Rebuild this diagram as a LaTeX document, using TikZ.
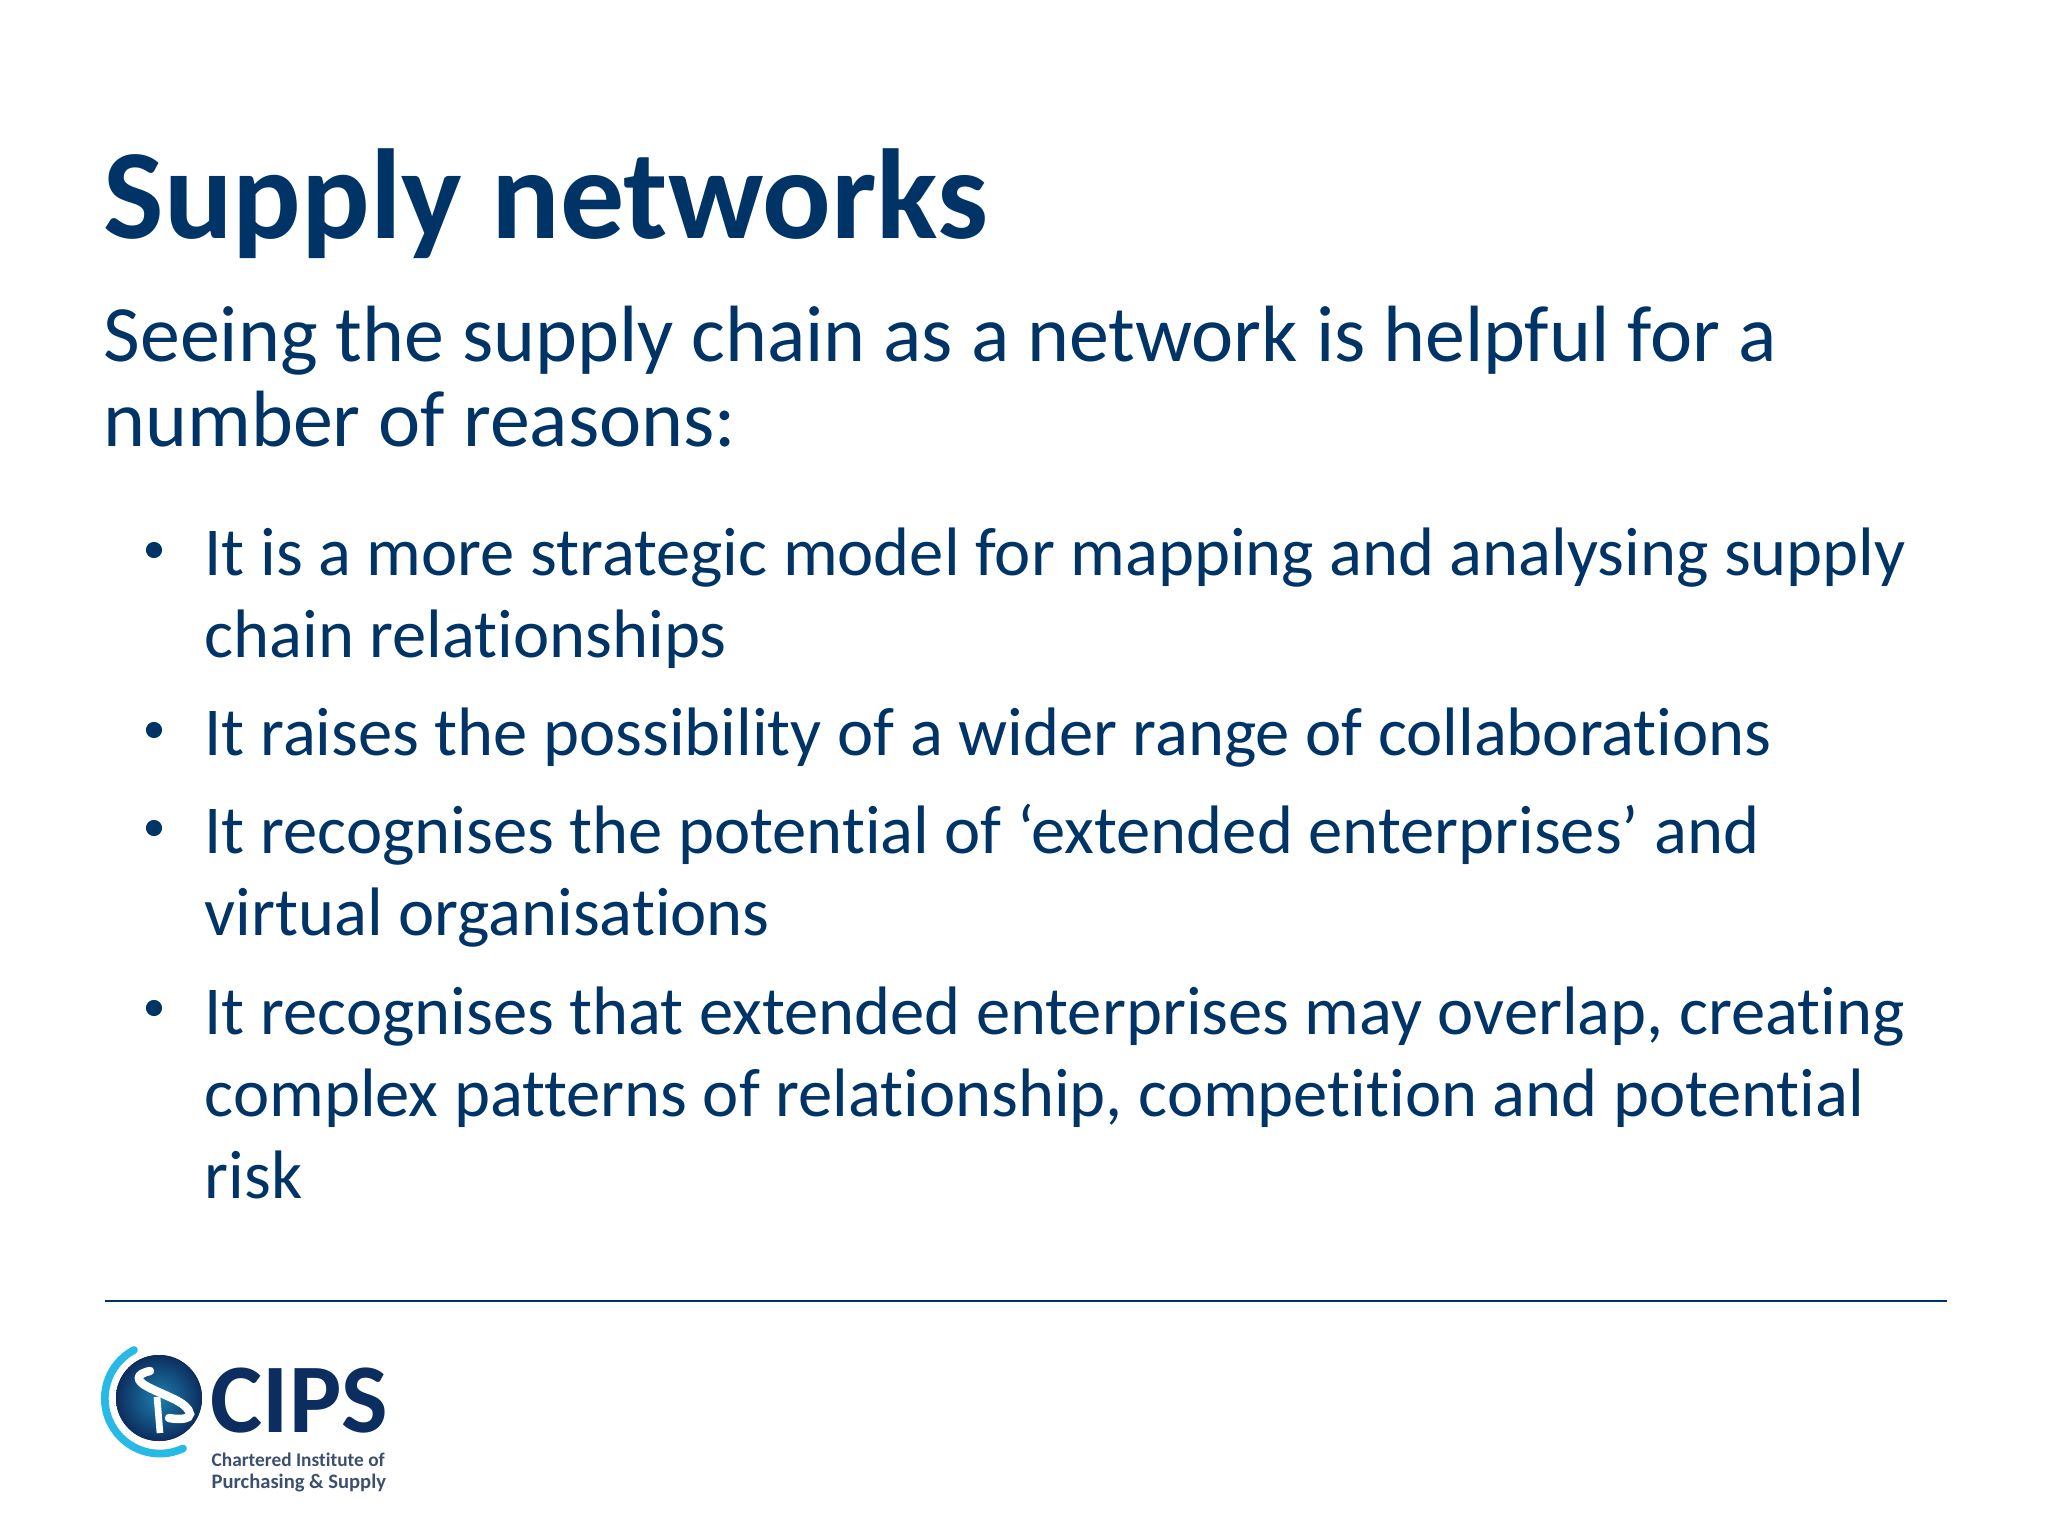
\documentclass[tikz,border=0pt]{standalone}
\usepackage{fontspec}
\setmainfont[Ligatures=NoCommon]{Carlito}
\definecolor{cipsblue}{RGB}{0,51,102}
\definecolor{cipsnavy}{RGB}{12,45,95}
\definecolor{cipscyan}{RGB}{40,185,230}
\definecolor{cipsgrey}{RGB}{60,80,110}
\tikzset{
	titletext/.style={anchor=base west,inner sep=0pt,text=cipsblue,font=\fontsize{36.4pt}{40pt}\selectfont\bfseries},
	introtext/.style={anchor=base west,inner sep=0pt,text=cipsblue,font=\fontsize{22.7pt}{27pt}\selectfont},
	bullettext/.style={anchor=base west,inner sep=0pt,text=cipsblue,font=\fontsize{19.5pt}{23pt}\selectfont},
	bulletdot/.style={circle,fill=cipsblue,inner sep=0pt,minimum size=4.6pt},
	logotext/.style={anchor=base west,inner sep=0pt,text=cipsgrey,font=\fontsize{5.5pt}{6pt}\selectfont\bfseries},
}
\begin{document}
\begin{tikzpicture}[x=0.01cm,y=-0.01cm]
		\useasboundingbox (0,0) rectangle (2048,1536);
		\node[titletext] (title) at (103,238) {Supply networks};
		\node[introtext] (introa) at (103,361) {Seeing the supply chain as a network is helpful for a};
		\node[introtext] (introb) at (103,446) {number of reasons:};

		\node[bulletdot] (dota) at (154,550) {};
		\node[bullettext] (linea) at (204,575) {It is a more strategic model for mapping and analysing supply};
		\node[bullettext] (lineb) at (204,657) {chain relationships};
		\node[bulletdot] (dotb) at (154,730) {};
		\node[bullettext] (linec) at (204,755) {It raises the possibility of a wider range of collaborations};
		\node[bulletdot] (dotc) at (154,828) {};
		\node[bullettext] (lined) at (204,853) {It recognises the potential of ‘extended enterprises’ and};
		\node[bullettext] (linee) at (204,935) {virtual organisations};
		\node[bulletdot] (dotd) at (154,1008) {};
		\node[bullettext] (linef) at (204,1034) {It recognises that extended enterprises may overlap, creating};
		\node[bullettext] (lineg) at (204,1116) {complex patterns of relationship, competition and potential};
		\node[bullettext] (lineh) at (204,1198) {risk};

		\coordinate (rulea) at (105,1301);
		\coordinate (ruleb) at (1947,1301);
		\draw[cipsblue,line width=0.55pt] (rulea) -- (ruleb);

		% logo
		\fill[inner color=cipscyan!60!cipsnavy,outer color=cipsnavy] (159,1398) circle (43);
		\draw[cipscyan,line width=2.2pt,line cap=round] (134,1350) arc[start angle=242,end angle=65,radius=55];
		\draw[white,line width=2.4pt,line cap=round] (150,1371) .. controls (135,1374) and (136,1381) .. (148,1387) .. controls (165,1396) and (188,1402) .. (190,1414) .. controls (190,1419) and (180,1420) .. (169,1418);
		\draw[white,line width=1.9pt] (157,1397) -- (160,1433);
		\node[anchor=base west,inner sep=0pt,text=cipsnavy,font=\fontsize{28pt}{30pt}\selectfont\bfseries] (cips) at (210,1432) {CIPS};
		\node[logotext] (logoa) at (211,1466) {Chartered Institute of};
		\node[logotext,font=\fontsize{5.85pt}{6pt}\selectfont\bfseries] (logob) at (211,1488) {Purchasing \& Supply};
	\end{tikzpicture}
\end{document}
